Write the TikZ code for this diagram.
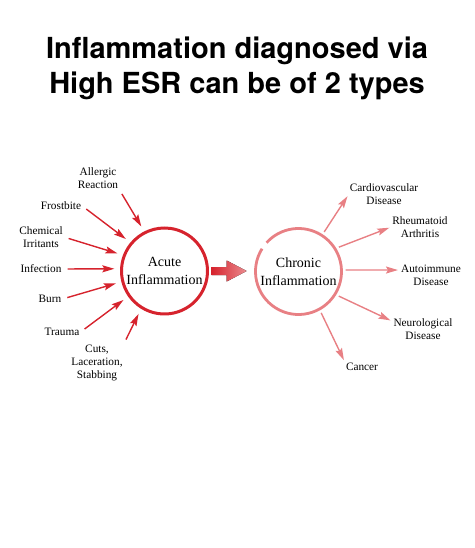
\documentclass[tikz,border=0pt]{standalone}
\usepackage{fontspec}
\setmainfont{Liberation Serif}
\newfontfamily\titlefont{TeX Gyre Heros}
\usetikzlibrary{arrows.meta}
\definecolor{acutered}{RGB}{214,35,45}
\definecolor{chronicpink}{RGB}{232,128,132}

\begin{document}
\begin{tikzpicture}[x=1pt,y=-1pt,
  lbl/.style={align=center,inner sep=1pt,font=\fontsize{11.3}{12.8}\selectfont},
  bubble/.style={circle,minimum size=86pt,inner sep=0pt,align=center,font=\fontsize{14}{18}\selectfont},
  inarrow/.style={acutered,line width=1.4pt,-{Stealth[length=12pt,width=7pt,inset=2pt]},shorten <=5pt,shorten >=7pt},
  outarrow/.style={chronicpink,line width=1.4pt,-{Stealth[length=12pt,width=7pt,inset=2pt]},shorten <=4pt,shorten >=2pt}]
  \useasboundingbox (0,0) rectangle (474,548);

  % title
  \node[align=center,font=\titlefont\bfseries\fontsize{29}{35}\selectfont] (title) at (237,68)
    {Inflammation diagnosed via\\High ESR can be of 2 types};

  % acute side
  \node[bubble] (acute) at (164.5,271) {Acute\\Inflammation};
  \draw[acutered,line width=3pt] (acute.center) ++(-52:43) arc[start angle=-52,end angle=318,radius=43];

  \node[lbl] (allergic) at (98,178) {Allergic\\Reaction};
  \node[lbl] (frostbite) at (61,206) {Frostbite};
  \node[lbl] (chemical) at (41,237) {Chemical\\Irritants};
  \node[lbl] (infection) at (41,269) {Infection};
  \node[lbl] (burn) at (50,299) {Burn};
  \node[lbl] (trauma) at (62,332) {Trauma};
  \node[lbl] (cuts) at (97,363) {Cuts,\\Laceration,\\Stabbing};

  \draw[inarrow] (allergic.south east) -- (acute.117);
  \draw[inarrow] (frostbite.east) -- (acute.140);
  \draw[inarrow] (chemical.east) -- (acute.159);
  \draw[inarrow] (infection.east) -- (acute.177);
  \draw[inarrow] (burn.east) -- (acute.194);
  \draw[inarrow] (trauma.east) -- (acute.215);
  \draw[inarrow] (cuts.north east) -- (acute.238);

  % big arrow
  \fill[left color=acutered,right color=chronicpink!90] ([xshift=4pt]acute.east) ++(0,-4) -- ++(15,0) -- ++(0,-6.5)
    -- ++(20,10.5) -- ++(-20,10.5) -- ++(0,-6.5) -- ++(-15,0) -- cycle;

  % chronic side
  \node[bubble] (chronic) at (298.5,271.5) {Chronic\\Inflammation};
  \draw[chronicpink,line width=2.8pt] (chronic.center) ++(-148:43) arc[start angle=-148,end angle=-498,radius=43];

  \node[lbl] (cardio) at (384,194.5) {Cardiovascular\\Disease};
  \node[lbl] (rheuma) at (420,227) {Rheumatoid\\Arthritis};
  \node[lbl] (autoimm) at (431,275.5) {Autoimmune\\Disease};
  \node[lbl] (neuro) at (423,329.5) {Neurological\\Disease};
  \node[lbl] (cancer) at (362,367) {Cancer};

  \draw[outarrow] (chronic.57) -- (cardio.west);
  \draw[outarrow] (chronic.32) -- (rheuma.west);
  \draw[outarrow] (chronic.2) -- (autoimm.170);
  \draw[outarrow] (chronic.-32) -- (neuro.165);
  \draw[outarrow] (chronic.-61) -- (cancer.north west);
\end{tikzpicture}
\end{document}
